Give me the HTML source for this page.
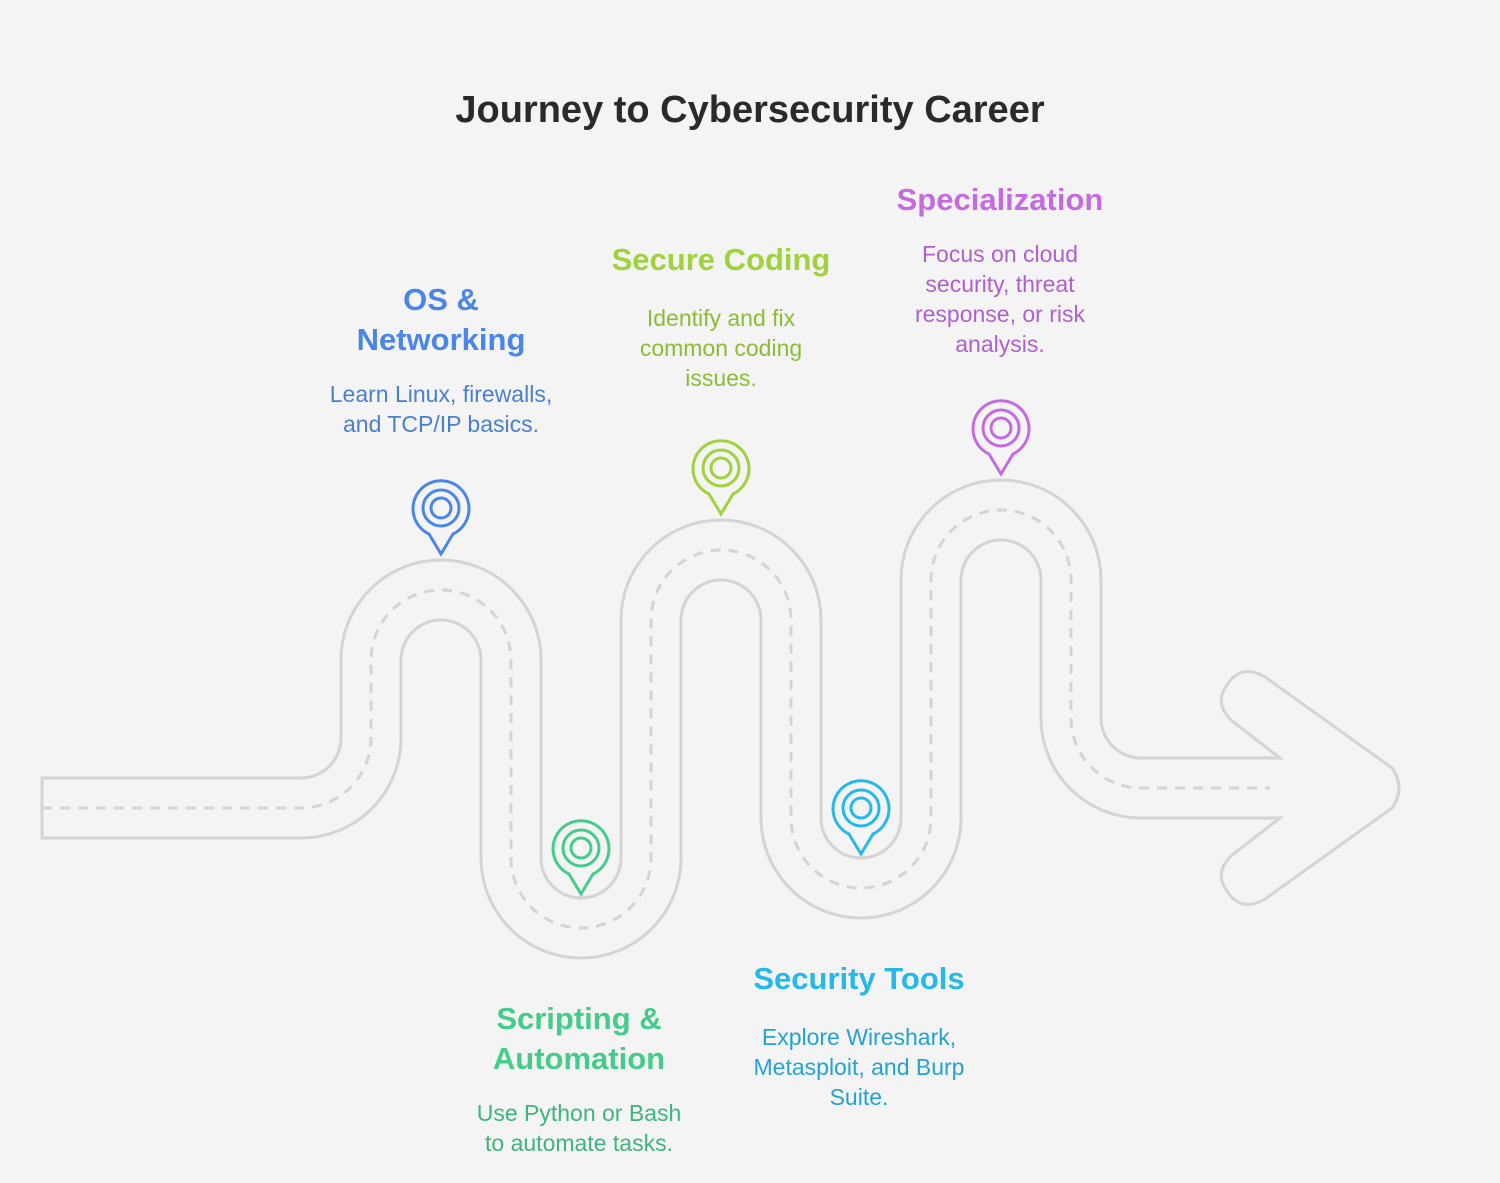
<!DOCTYPE html>
<html><head><meta charset="utf-8"><style>
body{margin:0;width:1500px;height:1183px;background:#f4f4f4;font-family:"Liberation Sans",sans-serif;position:relative;overflow:hidden}
.t{position:absolute;text-align:center;white-space:nowrap}
h1{position:absolute;left:0;width:1500px;top:89px;margin:0;text-align:center;font-size:38px;color:#2a2a2a;font-weight:bold}
.h{font-weight:bold;font-size:31px;line-height:40px}
.b{font-size:23px;line-height:30px}
</style></head><body>
<h1>Journey to Cybersecurity Career</h1>
<svg width="1500" height="1183" style="position:absolute;left:0;top:0" fill="none">
<g stroke="#d4d4d4" stroke-width="3">
<path d="M42 778 H301 A40 40 0 0 0 341 738 V660 A100 100 0 0 1 541 660 V858 A40 40 0 0 0 621 858 V620 A100 100 0 0 1 821 620 V818 A40 40 0 0 0 901 818 V580 A100 100 0 0 1 1101 580 V718 A40 40 0 0 0 1141 758 H1280 L1232 721 Q1215 705 1225 688 Q1240 662 1265 677 L1392 768 Q1406 788 1392 808 L1265 899 Q1240 914 1225 888 Q1215 871 1232 855 L1280 818 H1141 A100 100 0 0 1 1041 718 V580 A40 40 0 0 0 961 580 V818 A100 100 0 0 1 761 818 V620 A40 40 0 0 0 681 620 V858 A100 100 0 0 1 481 858 V660 A40 40 0 0 0 401 660 V738 A100 100 0 0 1 301 838 H42 Z"/>
<path stroke-dasharray="10 8" d="M42 808 H301 A70 70 0 0 0 371 738 V660 A70 70 0 0 1 511 660 V858 A70 70 0 0 0 651 858 V620 A70 70 0 0 1 791 620 V818 A70 70 0 0 0 931 818 V580 A70 70 0 0 1 1071 580 V718 A70 70 0 0 0 1141 788 H1270"/>
</g>
<g stroke-width="3">
<g stroke="#4a86e8" transform="translate(441,508)"><path d="M-12 26 A28 28 0 1 1 12 26 L0 46 Z"/><circle r="18"/><circle r="10"/></g>
<g stroke="#45cc8a" transform="translate(581,848)"><path d="M-12 26 A28 28 0 1 1 12 26 L0 46 Z"/><circle r="18"/><circle r="10"/></g>
<g stroke="#9fd23c" transform="translate(721,468)"><path d="M-12 26 A28 28 0 1 1 12 26 L0 46 Z"/><circle r="18"/><circle r="10"/></g>
<g stroke="#25b8e8" transform="translate(861,808)"><path d="M-12 26 A28 28 0 1 1 12 26 L0 46 Z"/><circle r="18"/><circle r="10"/></g>
<g stroke="#c56be0" transform="translate(1001,428)"><path d="M-12 26 A28 28 0 1 1 12 26 L0 46 Z"/><circle r="18"/><circle r="10"/></g>
</g></svg>
<div class="t" style="left:291px;width:300px;top:280px"><div class="h" style="color:#4a86e8">OS &amp;<br>Networking</div><div class="b" style="color:#4a7fcf;margin-top:19px">Learn Linux, firewalls,<br>and TCP/IP basics.</div></div>
<div class="t" style="left:571px;width:300px;top:240px"><div class="h" style="color:#9fd23c">Secure Coding</div><div class="b" style="color:#8cbc36;margin-top:23px">Identify and fix<br>common coding<br>issues.</div></div>
<div class="t" style="left:850px;width:300px;top:180px"><div class="h" style="color:#c56be0">Specialization</div><div class="b" style="color:#b060cc;margin-top:19px">Focus on cloud<br>security, threat<br>response, or risk<br>analysis.</div></div>
<div class="t" style="left:429px;width:300px;top:999px"><div class="h" style="color:#45cc8a">Scripting &amp;<br>Automation</div><div class="b" style="color:#3db57c;margin-top:19px">Use Python or Bash<br>to automate tasks.</div></div>
<div class="t" style="left:709px;width:300px;top:959px"><div class="h" style="color:#25b8e8">Security Tools</div><div class="b" style="color:#24a3cf;margin-top:23px">Explore Wireshark,<br>Metasploit, and Burp<br>Suite.</div></div>
</body></html>
